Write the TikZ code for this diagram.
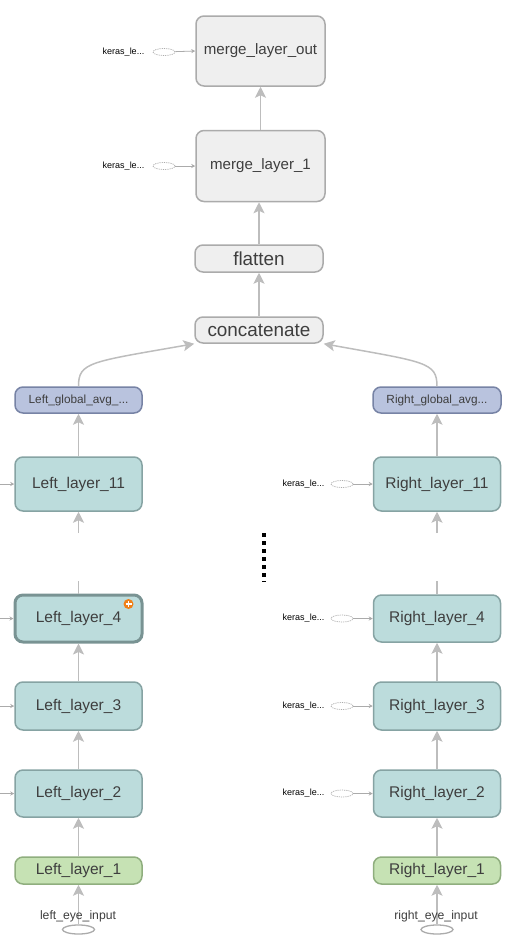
\documentclass[tikz,border=0pt]{standalone}
\usepackage{fontspec}
\setmainfont{Liberation Sans}
\usetikzlibrary{arrows.meta,shapes.geometric}
\definecolor{txt}{HTML}{3E3E3E}
\definecolor{grayfill}{HTML}{EFEFEF}
\definecolor{grayline}{HTML}{ABABAB}
\definecolor{tealfill}{HTML}{BCDCDC}
\definecolor{tealline}{HTML}{86A3A3}
\definecolor{bluefill}{HTML}{B9C3DE}
\definecolor{blueline}{HTML}{7783A5}
\definecolor{greenfill}{HTML}{C6E2B4}
\definecolor{greenline}{HTML}{8FAE7E}
\definecolor{arrcol}{HTML}{BDBDBD}
\definecolor{plusorange}{HTML}{F07F16}
\tikzset{
  box/.style={rectangle, rounded corners=8pt, line width=1.5pt, text=txt, inner sep=0pt},
  graybox/.style={box, draw=grayline, fill=grayfill, minimum width=129pt},
  tealbox/.style={box, draw=tealline, fill=tealfill, minimum width=127pt, font=\fontsize{15.5}{16}\selectfont},
  bluebox/.style={box, draw=blueline, fill=bluefill, minimum width=127pt, minimum height=26pt, font=\fontsize{11.8}{12}\selectfont},
  greenbox/.style={box, draw=greenline, fill=greenfill, minimum width=127pt, minimum height=27pt, font=\fontsize{15.5}{16}\selectfont},
  arr/.style={draw=arrcol, line width=1.5pt, -{Stealth[length=11pt,width=11pt,inset=2.5pt]}},
  plainline/.style={draw=arrcol, line width=1.5pt},
  sidearrow/.style={draw=grayline, line width=0.8pt, -{Stealth[length=4pt,width=4pt]}},
  kerastext/.style={font=\fontsize{9}{9}\selectfont, text=black, inner sep=0pt},
  dashell/.style={ellipse, draw=grayline, dash pattern=on 1.2pt off 1pt, line width=0.7pt, minimum width=22pt, minimum height=7pt, inner sep=0pt},
  inell/.style={ellipse, draw=grayline, line width=1.3pt, minimum width=32pt, minimum height=9pt, inner sep=0pt},
  intext/.style={font=\fontsize{12.2}{12}\selectfont, text=txt, inner sep=0pt}
}
\begin{document}
\begin{tikzpicture}[x=1pt,y=-1pt]
\useasboundingbox (0,0) rectangle (528,951);
% top gray nodes
\node[graybox, minimum height=70pt, font=\fontsize{15.1}{16}\selectfont] (mout) at (260.5,51) {merge\_layer\_out};
\node[graybox, minimum height=71pt, font=\fontsize{15.1}{16}\selectfont] (m1) at (260.5,166) {merge\_layer\_1};
\node[graybox, minimum width=128pt, minimum height=27pt, font=\fontsize{18.9}{19}\selectfont] (flat) at (259,258.5) {flatten};
\node[graybox, minimum width=128pt, minimum height=26pt, font=\fontsize{18.9}{19}\selectfont] (conc) at (259,330) {concatenate};
% global avg
\node[bluebox] (Lgap) at (78.5,400) {Left\_global\_avg\_...};
\node[bluebox, minimum width=128pt] (Rgap) at (437,400) {Right\_global\_avg...};
% layer 11
\node[tealbox, minimum height=54pt] (L11) at (78.5,484) {Left\_layer\_11};
\node[tealbox, minimum height=54pt] (R11) at (437,484) {Right\_layer\_11};
% layer 4
\node[tealbox, minimum height=47pt, line width=3pt, draw=tealline!90!black] (L4) at (78.5,618.5) {Left\_layer\_4};
\node[tealbox, minimum height=47pt] (R4) at (437,618.5) {Right\_layer\_4};
% layer 3
\node[tealbox, minimum height=48pt] (L3) at (78.5,706) {Left\_layer\_3};
\node[tealbox, minimum height=48pt] (R3) at (437,706) {Right\_layer\_3};
% layer 2
\node[tealbox, minimum height=47pt] (L2) at (78.5,793.5) {Left\_layer\_2};
\node[tealbox, minimum height=47pt] (R2) at (437,793.5) {Right\_layer\_2};
% layer 1
\node[greenbox] (L1) at (78.5,870.5) {Left\_layer\_1};
\node[greenbox] (R1) at (437,870.5) {Right\_layer\_1};
% inputs
\node[inell] (Lin) at (78.5,929.5) {};
\node[inell] (Rin) at (437,929.5) {};
\draw[arr] (Lin.north) -- (L1.south);
\draw[arr] (Rin.north) -- (R1.south);
\node[intext] (Lintxt) at (78,916) {left\_eye\_input};
\node[intext] (Rintxt) at (436,916) {right\_eye\_input};
% main arrows
\draw[arr] (m1.north) -- (mout.south);
\draw[arr] (flat.north) -- (flat.north |- m1.south);
\draw[arr] (conc.north) -- (flat.south);
\draw[arr] (Lgap.north) .. controls (78.5,362) and (90,362) .. (conc.south west);
\draw[arr] (Rgap.north) .. controls (437,362) and (425,362) .. (conc.south east);
\draw[arr] (L11.north) -- (Lgap.south);
\draw[arr] (R11.north) -- (Rgap.south);
\coordinate (l11in) at (78.5,533);
\coordinate (r11in) at (437,533);
\draw[arr] (l11in) -- (L11.south);
\draw[arr] (r11in) -- (R11.south);
\coordinate (l4out) at (78.5,581);
\coordinate (r4out) at (437,581);
\draw[plainline] (L4.north) -- (l4out);
\draw[plainline] (R4.north) -- (r4out);
\draw[arr] (L3.north) -- (L4.south);
\draw[arr] (R3.north) -- (R4.south);
\draw[arr] (L2.north) -- (L3.south);
\draw[arr] (R2.north) -- (R3.south);
\draw[arr] (L1.north) -- (L2.south);
\draw[arr] (R1.north) -- (R2.south);
% vertical dots
\coordinate (dtop) at (263.5,533);
\coordinate (dbot) at (263.5,582);
\draw[black, line width=4pt, dash pattern=on 4pt off 4pt] (dtop) -- (dbot);
% left edge inputs
\coordinate (e11) at (0,484);
\coordinate (e4) at (0,618.5);
\coordinate (e3) at (0,706);
\coordinate (e2) at (0,793.5);
\draw[sidearrow] (e11) -- (L11.west);
\draw[sidearrow] (e4) -- (L4.west);
\draw[sidearrow] (e3) -- (L3.west);
\draw[sidearrow] (e2) -- (L2.west);
% keras side inputs, top
\node[kerastext] (kt1) at (123.5,52) {keras\_le...};
\node[dashell] (ke1) at (164,52) {};
\draw[sidearrow] (ke1) -- (mout.west);
\node[kerastext] (kt2) at (123.5,166) {keras\_le...};
\node[dashell] (ke2) at (164,166) {};
\draw[sidearrow] (ke2) -- (m1.west);
% keras side inputs, right column
\node[kerastext] (kr11) at (303.5,484) {keras\_le...};
\node[dashell] (er11) at (342,484) {};
\draw[sidearrow] (er11) -- (R11.west);
\node[kerastext] (kr4) at (303.5,618.5) {keras\_le...};
\node[dashell] (er4) at (342,618.5) {};
\draw[sidearrow] (er4) -- (R4.west);
\node[kerastext] (kr3) at (303.5,706) {keras\_le...};
\node[dashell] (er3) at (342,706) {};
\draw[sidearrow] (er3) -- (R3.west);
\node[kerastext] (kr2) at (303.5,793.5) {keras\_le...};
\node[dashell] (er2) at (342,793.5) {};
\draw[sidearrow] (er2) -- (R2.west);
% orange plus badge
\node[circle, fill=plusorange, inner sep=0pt, minimum size=10pt] (plus) at (128.5,604) {};
\draw[white, line width=1.6pt] ([xshift=-3pt]plus.center) -- ([xshift=3pt]plus.center);
\draw[white, line width=1.6pt] ([yshift=-3pt]plus.center) -- ([yshift=3pt]plus.center);
\end{tikzpicture}
\end{document}
